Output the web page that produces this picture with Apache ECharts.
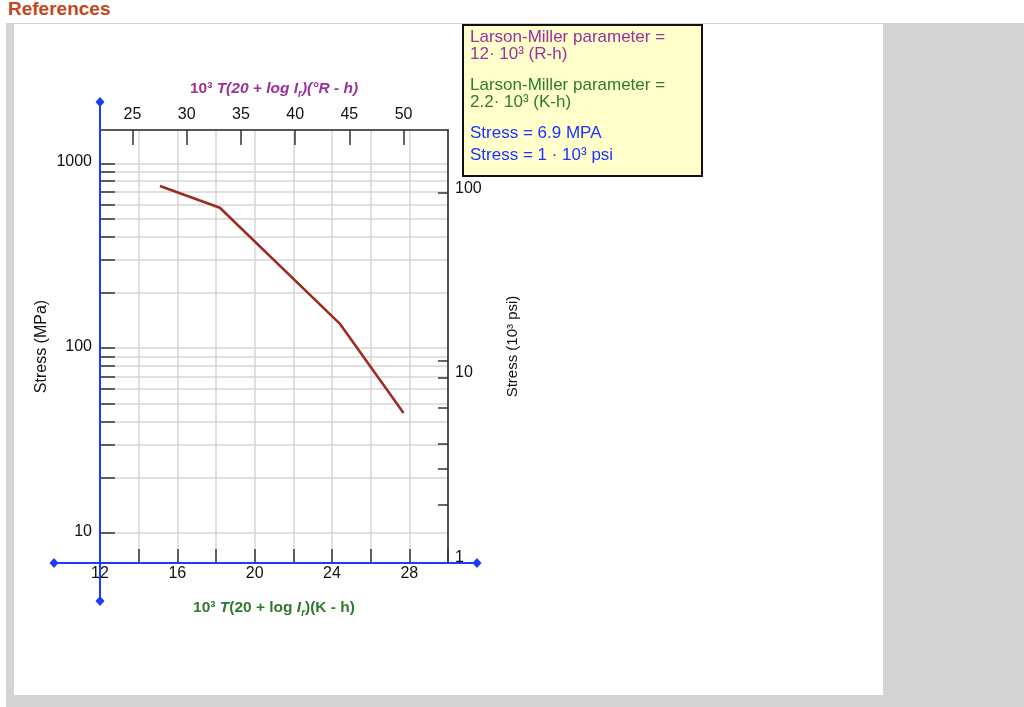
<!DOCTYPE html>
<html>
<head>
<meta charset="utf-8">
<script src="https://cdn.jsdelivr.net/npm/echarts@6/dist/echarts.min.js"></script>
<style>
  html, body { margin: 0; padding: 0; background: #fff; width: 1024px; height: 707px; overflow: hidden; }
  #title { position: absolute; left: 8px; top: 0px; font-family: "Liberation Sans", Arial, sans-serif; font-weight: bold; font-size: 19px; line-height: 18px; color: #c4461d; }
  #frame { position: absolute; left: 6px; top: 23px; width: 1018px; height: 684px; background: #d4d4d4; }
  #panel { position: absolute; left: 14px; top: 24px; width: 869px; height: 671px; background: #fff; }
  #chart { position: absolute; left: 0; top: 0; width: 1024px; height: 707px; }
</style>
</head>
<body>
<div id="title">References</div>
<div id="frame"></div>
<div id="panel"></div>
<div id="chart"></div>
<script>
// ---- data ----
const paramKh = [15.1, 18.2, 24.4, 27.7];          // 10^3 T(20+log t)(K-h)
const stressMPa = [754, 575, 136, 44.6];             // MPa
const KSI_TO_MPA = 6.895;

const bottomMin = 12, bottomMax = 30, bottomStep = 2;
const bottomLabelEvery = 4;
const topMin = 22, topMax = 54.1;
const topTicks = [25, 30, 35, 40, 45, 50];
const leftMin = 1 * KSI_TO_MPA, leftMax = 1514;
const leftTicks = [10, 20, 30, 40, 50, 60, 70, 80, 90, 100, 200, 300, 400, 500, 600, 700, 800, 900, 1000];
const leftLabels = [10, 100, 1000];
const rightTicks = [1, 2.06, 3.22, 4.4, 6.87, 10, 12.4, 100];
const rightLabels = [1, 10, 100];

const legendLines = [
  { text: 'Larson-Miller parameter =', color: '#9a3299' },
  { text: '12\u00b7 10\u00b3 (R-h)', color: '#9a3299' },
  { text: 'Larson-Miller parameter =', color: '#2f7a2f' },
  { text: '2.2\u00b7 10\u00b3 (K-h)', color: '#2f7a2f' },
  { text: 'Stress = 6.9 MPA', color: '#1a33ff' },
  { text: 'Stress = 1 \u00b7 10\u00b3 psi', color: '#1a33ff' }
];
const legendY = [37, 54, 85, 102, 133, 155];

// ---- chart ----
const FONT = '"Liberation Sans", Arial, Helvetica, sans-serif';
const chart = echarts.init(document.getElementById('chart'), null, { renderer: 'canvas' });
const gridRect = { left: 100, top: 130, width: 348, height: 433 };
const purple = '#9a3299', green = '#2f7a2f', blue = '#1b3cff';

function nameRich(color) {
  return {
    b: { fontFamily: FONT, fontWeight: 'bold', fontSize: 15.5, color: color, lineHeight: 20 },
    i: { fontFamily: FONT, fontWeight: 'bold', fontStyle: 'italic', fontSize: 15.5, color: color, lineHeight: 20 },
    s: { fontFamily: FONT, fontWeight: 'bold', fontStyle: 'italic', fontSize: 10, color: color, lineHeight: 20, verticalAlign: 'bottom', padding: [6, 0, 0, 0] }
  };
}
const numFmt = v => String(v);

const option = {
  animation: false,
  backgroundColor: 'transparent',
  grid: Object.assign({ containLabel: false }, gridRect),
  xAxis: [
    {
      type: 'value', position: 'bottom', min: bottomMin, max: bottomMax, interval: bottomStep,
      axisLine: { show: false },
      axisTick: { show: true, inside: true, length: 14, lineStyle: { color: '#333', width: 1.5 } },
      axisLabel: { color: '#111', fontFamily: FONT, fontSize: 16, margin: 3,
        formatter: v => (v % bottomLabelEvery === 0 ? String(v) : '') },
      splitLine: { show: true, lineStyle: { color: '#d6d6d6', width: 1.5 } },
      name: '{b|10\u00b3 }{i|T}{b|(20 + log }{i|I}{s|r}{b|)(K - h)}',
      nameLocation: 'middle', nameGap: 35, nameMoveOverlap: false,
      nameTextStyle: { rich: nameRich(green) }
    },
    {
      type: 'value', position: 'top', min: topMin, max: topMax,
      axisLine: { show: true, lineStyle: { color: '#222', width: 1.5 } },
      axisTick: { show: true, inside: true, length: 15, customValues: topTicks, lineStyle: { color: '#333', width: 1.5 } },
      axisLabel: { color: '#111', fontFamily: FONT, fontSize: 16, margin: 7, customValues: topTicks, formatter: numFmt },
      splitLine: { show: false },
      name: '{b|10\u00b3 }{i|T(20 + log I}{s|r}{i|)(\u00b0R - h)}',
      nameLocation: 'middle', nameGap: 31, nameMoveOverlap: false,
      nameTextStyle: { rich: nameRich(purple) }
    }
  ],
  yAxis: [
    {
      type: 'log', logBase: 10, position: 'left', min: leftMin, max: leftMax,
      axisLine: { show: false },
      axisTick: { show: true, inside: true, length: 15, customValues: leftTicks, lineStyle: { color: '#333', width: 1.5 } },
      axisLabel: { color: '#111', fontFamily: FONT, fontSize: 16, margin: 8, customValues: leftLabels,
        formatter: numFmt, verticalAlign: 'bottom', lineHeight: 4 },
      splitLine: { show: true, lineStyle: { color: '#d6d6d6', width: 1.5 } },
      name: 'Stress (MPa)', nameLocation: 'middle', nameGap: 50, nameRotate: 90, nameMoveOverlap: false,
      nameTextStyle: { color: '#111', fontFamily: FONT, fontSize: 16 }
    },
    {
      type: 'log', logBase: 10, position: 'right', min: leftMin / KSI_TO_MPA, max: leftMax / KSI_TO_MPA,
      axisLine: { show: true, lineStyle: { color: '#222', width: 1.5 } },
      axisTick: { show: true, inside: true, length: 10, customValues: rightTicks, lineStyle: { color: '#333', width: 1.5 } },
      axisLabel: { color: '#111', fontFamily: FONT, fontSize: 16, margin: 7, customValues: rightLabels,
        formatter: numFmt, verticalAlign: 'bottom', lineHeight: 10 },
      splitLine: { show: false },
      name: 'Stress (10\u00b3 psi)', nameLocation: 'middle', nameGap: 57, nameRotate: 90, nameMoveOverlap: false,
      nameTextStyle: { color: '#111', fontFamily: FONT, fontSize: 15 }
    }
  ],
  series: [
    {
      type: 'line', xAxisIndex: 0, yAxisIndex: 0,
      data: paramKh.map((x, i) => [x, stressMPa[i]]),
      symbol: 'none', silent: true,
      lineStyle: { color: '#9b2a1f', width: 2.5 },
      z: 5
    }
  ]
};
chart.setOption(option);

// ---- decorations: blue axis lines with diamond ends, legend box ----
const bl = chart.convertToPixel({ xAxisIndex: 0, yAxisIndex: 0 }, [bottomMin, leftMin]);
const tr = chart.convertToPixel({ xAxisIndex: 0, yAxisIndex: 0 }, [bottomMax, leftMax]);
function diamond(cx, cy) {
  return { type: 'polygon', shape: { points: [[cx, cy - 5], [cx + 4.5, cy], [cx, cy + 5], [cx - 4.5, cy]] },
    style: { fill: blue }, z: 20, silent: true };
}
const vTop = tr[1] - 28, vBot = bl[1] + 38, hLeft = bl[0] - 46, hRight = tr[0] + 29;
const graphics = [
  { type: 'line', shape: { x1: bl[0], y1: vTop, x2: bl[0], y2: vBot }, style: { stroke: blue, lineWidth: 2 }, z: 19, silent: true },
  { type: 'line', shape: { x1: hLeft, y1: bl[1], x2: hRight, y2: bl[1] }, style: { stroke: blue, lineWidth: 2 }, z: 19, silent: true },
  diamond(bl[0], vTop), diamond(bl[0], vBot), diamond(hLeft, bl[1]), diamond(hRight, bl[1]),
  { type: 'rect', shape: { x: 463, y: 25, width: 239, height: 151 },
    style: { fill: '#ffffcc', stroke: '#111', lineWidth: 2 }, z: 30, silent: true }
];
legendLines.forEach((ln, i) => {
  graphics.push({ type: 'text', x: 470, y: legendY[i], z: 31, silent: true,
    style: { text: ln.text, fill: ln.color, font: '17px ' + FONT, textVerticalAlign: 'middle', textAlign: 'left' } });
});
chart.setOption({ graphic: graphics });
</script>
</body>
</html>
